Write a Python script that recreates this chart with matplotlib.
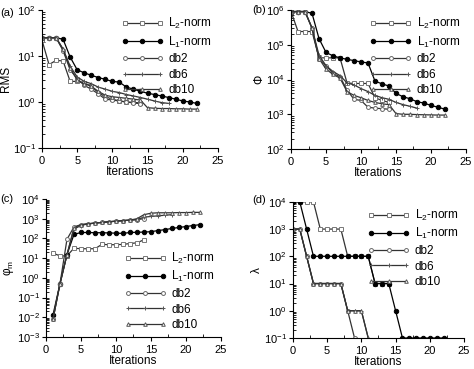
import matplotlib
matplotlib.use("Agg")
import matplotlib.pyplot as plt
import matplotlib.ticker as mticker
import numpy as np

plt.rcParams['font.family'] = ['Liberation Sans', 'DejaVu Sans']
plt.rcParams['mathtext.default'] = 'regular'
plt.rcParams['font.size'] = 8

series_names = ["L$_2$-norm", "L$_1$-norm", "db2", "db6", "db10"]

# (a) RMS
rms_l2 = [22, 6.5, 8.0, 7.8, 2.8, 2.8, 2.6, 2.2, 1.6, 1.3, 1.15, 1.05, 1.0, 0.98, 0.95]
rms_l1 = [25, 25, 25, 23, 9.5, 5.0, 4.3, 3.8, 3.4, 3.1, 2.8, 2.7, 2.1, 1.9, 1.7,
          1.55, 1.45, 1.35, 1.25, 1.15, 1.05, 1.0, 0.93]
rms_db2 = [25, 25, 25, 13, 5.0, 3.2, 2.3, 1.9, 1.5, 1.15, 1.1, 1.05, 1.0, 0.95, 0.92]
rms_db6 = [25, 25, 25, 14, 6.0, 3.5, 2.8, 2.5, 2.1, 1.9, 1.7, 1.6, 1.45, 1.35, 1.25,
           1.15, 1.05, 0.97, 0.93]
rms_db10 = [25, 25, 25, 14, 5.5, 3.0, 2.5, 2.2, 1.7, 1.4, 1.3, 1.25, 1.2, 1.15, 1.1,
            0.75, 0.73, 0.72, 0.72, 0.71, 0.71, 0.70, 0.70]

# (b) objective function
phi_l2 = [9e5, 2.4e5, 2.4e5, 2.4e5, 4.2e4, 4.2e4, 4.2e4, 4.2e4, 8e3, 7.7e3, 7.7e3,
          7.7e3, 3e3, 2.5e3, 2.2e3]
phi_l1 = [9e5, 9e5, 9e5, 8e5, 1.5e5, 6e4, 4.8e4, 4.2e4, 3.8e4, 3.5e4, 3.2e4, 3e4,
          9e3, 7.5e3, 6.5e3, 4e3, 3.2e3, 2.8e3, 2.3e3, 2.1e3, 1.8e3, 1.6e3, 1.4e3]
phi_db2 = [9e5, 9e5, 9e5, 3e5, 4e4, 2.5e4, 1.5e4, 1.2e4, 5e3, 2.7e3, 2.5e3, 1.6e3,
           1.5e3, 1.45e3, 1.4e3]
phi_db6 = [9e5, 9e5, 9e5, 3e5, 5e4, 2.5e4, 1.7e4, 1.3e4, 8e3, 7e3, 5.5e3, 4.5e3,
           3.5e3, 3e3, 2.7e3, 2.2e3, 1.9e3, 1.7e3, 1.5e3]
phi_db10 = [9e5, 9e5, 9e5, 3e5, 4e4, 2e4, 1.4e4, 1.1e4, 4.5e3, 3.5e3, 3e3, 2.5e3,
            2.2e3, 2e3, 1.9e3, 1.05e3, 1e3, 1e3, 980, 970, 960, 950, 950]

# (c) model norm, starts at iteration 1
phim_l2 = [18, 13, 13, 32, 30, 30, 30, 50, 48, 48, 50, 55, 60, 85]
phim_l1 = [0.013, 0.5, 15, 160, 200, 200, 195, 195, 190, 185, 180, 200, 205, 210,
           220, 250, 280, 320, 360, 400, 450, 500]
phim_db2 = [0.008, 0.5, 90, 380, 500, 550, 600, 650, 700, 750, 800, 850, 900, 1000]
phim_db6 = [0.008, 0.5, 15, 300, 450, 550, 600, 650, 700, 750, 800, 850, 900, 1200,
            1300, 1400, 1500, 1600]
phim_db10 = [0.008, 0.5, 15, 350, 500, 550, 600, 650, 700, 750, 800, 850, 1000, 1600,
             1900, 2000, 2000, 2000, 2050, 2050, 2100, 2100]

# (d) regularization parameter
lam_l2 = [1e4, 1e4, 1e4, 1e4, 1e3, 1e3, 1e3, 1e3, 100, 100, 100, 100, 10, 10, 10]
lam_l1 = [1e4, 1e4, 1e3, 100, 100, 100, 100, 100, 100, 100, 100, 100, 10, 10, 10,
          1, 0.1, 0.1, 0.1, 0.1, 0.1, 0.1, 0.1]
lam_db2 = [1e3, 1e3, 100, 10, 10, 10, 10, 10, 1, 0.1]
lam_db6 = [1e3, 1e3, 100, 10, 10, 10, 10, 10, 1, 1, 1, 0.1]
lam_db10 = [1e3, 1e3, 100, 10, 10, 10, 10, 10, 1, 1, 1, 0.1]

styles = [
    dict(color='#333333', marker='s', mfc='white', mec='#777777', ms=2.8, lw=0.9),
    dict(color='black', marker='o', mfc='black', mec='black', ms=3.2, lw=0.9),
    dict(color='#333333', marker='o', mfc='white', mec='#666666', ms=2.8, lw=0.9),
    dict(color='#333333', marker='+', mfc='none', mec='#555555', ms=2.8, lw=0.9),
    dict(color='#333333', marker='^', mfc='white', mec='#555555', ms=2.6, lw=0.9),
]

fig = plt.figure(figsize=(4.74, 3.69), dpi=100)

panels = [
    ([0.0886, 0.599, 0.371, 0.374], "(a)", (0.0, 0.965), "RMS", 0,
     [rms_l2, rms_l1, rms_db2, rms_db6, rms_db10], (0.1, 100), 'upper right'),
    ([0.614, 0.596, 0.369, 0.377], "(b)", (0.532, 0.973), "Φ", 0,
     [phi_l2, phi_l1, phi_db2, phi_db6, phi_db10], (100, 1e6), 'upper right'),
    ([0.097, 0.0867, 0.369, 0.374], "(c)", (0.0, 0.461), "$φ_m$", 1,
     [phim_l2, phim_l1, phim_db2, phim_db6, phim_db10], (1e-3, 1e4), 'lower right'),
    ([0.618, 0.084, 0.361, 0.369], "(d)", (0.532, 0.458), "λ", 0,
     [lam_l2, lam_l1, lam_db2, lam_db6, lam_db10], (0.1, 1e4), 'upper right'),
]

for rect, tag, tag_xy, ylab, x0, data, ylim, loc in panels:
    ax = fig.add_axes(rect)
    for name, vals, st in zip(series_names, data, styles):
        x = np.arange(x0, x0 + len(vals))
        ax.plot(x, vals, label=name, markeredgewidth=0.7, **st)
    ax.set_yscale('log')
    ax.set_ylim(*ylim)
    ax.set_xlim(0, 25)
    ax.xaxis.set_major_locator(mticker.MultipleLocator(5))
    ax.xaxis.set_minor_locator(mticker.MultipleLocator(2.5))
    ax.yaxis.set_major_locator(mticker.LogLocator(base=10, numticks=20))
    ax.yaxis.set_minor_locator(mticker.LogLocator(base=10, subs=np.arange(2, 10), numticks=20))
    ax.yaxis.set_minor_formatter(mticker.NullFormatter())
    ax.spines['top'].set_visible(False)
    ax.spines['right'].set_visible(False)
    ax.tick_params(which='major', direction='out', length=3, width=0.8, labelsize=8)
    ax.tick_params(axis='x', which='major', pad=3)
    ax.tick_params(axis='y', which='major', pad=1.5)
    ax.tick_params(which='minor', direction='in', length=2, width=0.6)
    ax.set_xlabel("Iterations", fontsize=8.5, labelpad=0)
    ax.set_ylabel(ylab, fontsize=8.5, labelpad=0.5)
    fig.text(tag_xy[0], tag_xy[1], tag, fontsize=8, va='center', ha='left')
    ax.legend(loc=loc, frameon=False, fontsize=8.5, numpoints=3, handlelength=3.6,
              handletextpad=0.4, labelspacing=0.3, borderaxespad=0.1)

fig.savefig("out.png", dpi=100)
